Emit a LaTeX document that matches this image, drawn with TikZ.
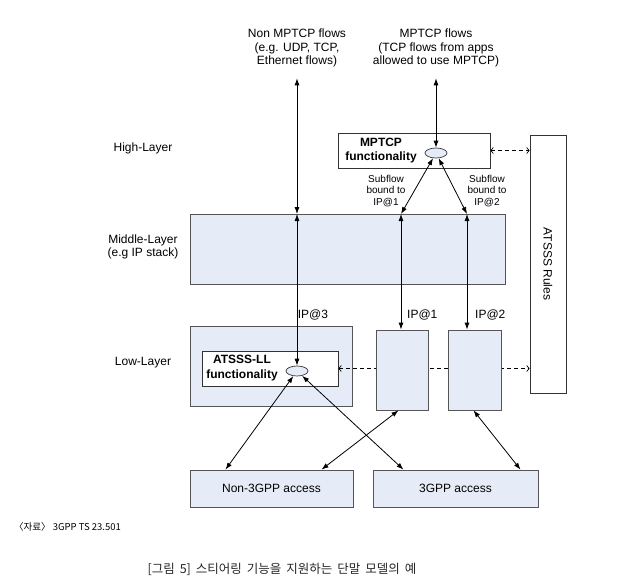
\documentclass[tikz,border=0pt]{standalone}
\usepackage{fontspec}
\setmainfont{Liberation Sans}
\newfontfamily\krfont{Noto Sans CJK KR}
\usepackage{xcolor}
\usetikzlibrary{arrows.meta, shapes.geometric, positioning}
\definecolor{boxblue}{RGB}{230,236,247}
\definecolor{edgegray}{RGB}{85,85,85}

\begin{document}
\begin{tikzpicture}[x=1pt,y=-1pt,font=\fontsize{12}{13.5}\selectfont,
  bbox/.style={draw=edgegray,fill=boxblue,line width=0.8pt,inner sep=0pt},
  wbox/.style={draw=black!80,fill=white,line width=0.8pt,inner sep=0pt},
  ell/.style={ellipse,draw=black!80,fill=boxblue,line width=0.7pt,inner sep=0pt,minimum width=22pt,minimum height=10pt},
  lbl/.style={align=center,inner sep=0pt},
  >={Latex[length=7pt,width=5pt]},
  arr/.style={<->,line width=0.8pt},
  ctl/.style={dashed,dash pattern=on 4pt off 3pt,line width=0.7pt,{Straight Barb[length=2.5pt,width=6pt]}-{Straight Barb[length=2.5pt,width=6pt]}}]
\useasboundingbox[fill=white] (0,0) rectangle (622,587);

\node[lbl] (nm) at (297,48) {Non MPTCP flows\\(e.g. UDP, TCP,\\Ethernet flows)};
\node[lbl] (mf) at (436,48) {MPTCP flows\\(TCP flows from apps\\allowed to use MPTCP)};

\node[lbl] (hl) at (143,148) {High-Layer};
\node[lbl] (ml) at (143,247) {Middle-Layer\\(e.g IP stack)};
\node[lbl] (ll) at (143,363) {Low-Layer};

\node[wbox,minimum width=152pt,minimum height=35pt] (mp) at (414,150.5) {};
\node[lbl,font=\fontsize{12}{14}\selectfont\bfseries] (mpt) at (381,151) {MPTCP\\functionality};
\node[ell] (mpe) at (436,153) {};

\node[wbox,minimum width=36pt,minimum height=258pt] (rules) at (548,264) {};
\node[lbl,rotate=-90] (rt) at (rules) {ATSSS Rules};

\node[bbox,minimum width=315pt,minimum height=70pt] (mid) at (347.5,249) {};

\node[bbox,minimum width=162pt,minimum height=80pt] (llo) at (271,366) {};
\node[wbox,minimum width=136pt,minimum height=35pt] (lli) at (270,368.5) {};
\node[lbl,font=\fontsize{12}{15}\selectfont\bfseries] (llt) at (242,368) {ATSSS-LL\\functionality};
\node[ell] (lle) at (297,371) {};

\draw[ctl] (mp.east) -- (mp.east -| rules.west);
\draw[ctl] (lli.east) -- (lli.east -| rules.west);

\node[bbox,minimum width=52pt,minimum height=80pt] (ip1) at (402.5,370) {};
\node[bbox,minimum width=53pt,minimum height=80pt] (ip2) at (474.5,370) {};

\node[bbox,minimum width=163pt,minimum height=37pt] (n3) at (271.5,488.5) {Non-3GPP access};
\node[bbox,minimum width=165pt,minimum height=37pt] (g3) at (455.5,488.5) {3GPP access};

\coordinate (m3) at (297,214);
\coordinate (m1) at (401,214);
\coordinate (m2) at (467,214);

\draw[arr] ([yshift=-11pt]nm.south) -- (m3);
\draw[arr] (m3) -- (lle);
\draw[arr] ([yshift=-11pt]mf.south) -- (mpe);
\draw[arr] (mpe) -- (m1);
\draw[arr] (mpe) -- (m2);
\draw[arr] (m1) -- (m1 |- ip1.north);
\draw[arr] (m2) -- (m2 |- ip2.north);

\node[lbl,font=\fontsize{10}{11.5}\selectfont] (s1) at (386,191) {Subflow\\bound to\\IP@1};
\node[lbl,font=\fontsize{10}{11.5}\selectfont] (s2) at (487,191) {Subflow\\bound to\\IP@2};

\node[lbl] (a3) at (313,315) {IP@3};
\node[lbl,right=6pt of m1 |- a3] (a1) {IP@1};
\node[lbl,right=8pt of m2 |- a3] (a2) {IP@2};

\draw[arr] (lle) -- ([xshift=-46pt]n3.north);
\draw[arr] (lle) -- ([xshift=-52pt]g3.north);
\draw[arr] ([xshift=-4pt]ip1.south) -- ([xshift=50pt]n3.north);
\draw[arr] ([xshift=-1pt]ip2.south) -- ([xshift=65pt]g3.north);

\node[anchor=west,inner sep=0pt,font=\krfont\fontsize{9.5}{11}\selectfont] (src) at (14,527) {〈자료〉 3GPP TS 23.501};
\node[inner sep=0pt,font=\krfont\fontsize{12.5}{14}\selectfont,text=black!85] (cap) at (282,569) {\spaceskip=5pt [그림 5] 스티어링 기능을 지원하는 단말 모델의 예};
\end{tikzpicture}
\end{document}
